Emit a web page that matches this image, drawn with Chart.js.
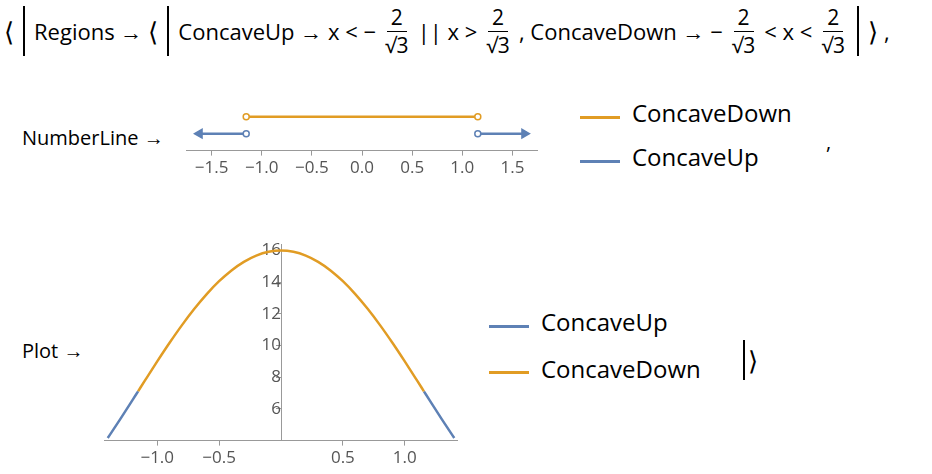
<!DOCTYPE html>
<html><head><meta charset="utf-8">
<script src="https://cdn.jsdelivr.net/npm/chart.js@4"></script>
<style>
body{margin:0;width:932px;height:474px;background:#fff;font-family:"Open Sans","Noto Sans",sans-serif;color:#000;position:relative;overflow:hidden}
.a{position:absolute;white-space:nowrap}
.row{display:flex;align-items:center;font-size:22px;gap:6px}
.fr{display:inline-flex;flex-direction:column;align-items:center;font-size:21px;line-height:27px;margin:0 3px}
.fr .n{border-bottom:1.3px solid #000;padding:0 4px}
.bar{display:inline-block;width:2px;height:50px;background:#000;margin:0 3px}
.lg{position:absolute;height:2.5px;width:40px}
.lt{position:absolute;font-size:24px}
</style></head><body>
<div class="a row" style="left:4px;top:3px;height:56px">
<span style="font-size:26px">⟨</span><span class="bar"></span><span>Regions → </span><span style="font-size:26px">⟨</span><span class="bar"></span>
<span>ConcaveUp → x &lt; −</span><span class="fr"><span class="n">2</span><span>√3</span></span><span>|| x &gt;</span><span class="fr"><span class="n">2</span><span>√3</span></span>
<span>, ConcaveDown → −</span><span class="fr"><span class="n">2</span><span>√3</span></span><span>&lt; x &lt;</span><span class="fr"><span class="n">2</span><span>√3</span></span>
<span class="bar"></span><span style="font-size:26px">⟩</span><span>,</span></div>
<div class="a" style="left:22px;top:124px;font-size:20px">NumberLine →</div>
<div class="a" style="left:22px;top:337px;font-size:20px">Plot →</div>
<div class="a" style="left:826px;top:128px;font-size:20px">,</div>
<div class="lg" style="left:580px;top:116px;background:#E19C24"></div><div class="lt" style="left:632px;top:96px">ConcaveDown</div>
<div class="lg" style="left:580px;top:160px;background:#5E81B5"></div><div class="lt" style="left:632px;top:140px">ConcaveUp</div>
<div class="lg" style="left:489px;top:325px;background:#5E81B5"></div><div class="lt" style="left:541px;top:305px">ConcaveUp</div>
<div class="lg" style="left:489px;top:371px;background:#E19C24"></div><div class="lt" style="left:541px;top:352px">ConcaveDown</div>
<div class="a" style="left:740px;top:340px;font-size:26px;display:flex;align-items:center"><span class="bar" style="height:40px"></span>⟩</div>
<div class="a" style="left:180px;top:100px;width:364px;height:80px"><canvas id="c1"></canvas></div>
<div class="a" style="left:104px;top:228px;width:354px;height:242px"><canvas id="c2"></canvas></div>
<script>
const blue='#5E81B5', orange='#E19C24';
const inflection=1.1547;
const nlTicks=[-1.5,-1.0,-0.5,0.0,0.5,1.0,1.5];
const leftX=[-1.4,-1.3,-1.2,-1.1547];
const leftY=[4.16,5.336,6.554,7.111];
const midX=[-1.1547,-1.1,-1.0,-0.9,-0.8,-0.7,-0.6,-0.5,-0.4,-0.3,-0.2,-0.1,0,0.1,0.2,0.3,0.4,0.5,0.6,0.7,0.8,0.9,1.0,1.1,1.1547];
const midY=[7.111,7.784,9,10.176,11.29,12.32,13.25,14.063,14.746,15.288,15.682,15.92,16,15.92,15.682,15.288,14.746,14.063,13.25,12.32,11.29,10.176,9,7.784,7.111];
const rightX=[1.1547,1.2,1.3,1.4];
const rightY=[7.111,6.554,5.336,4.16];
const plotXTicks=[-1.0,-0.5,0.5,1.0];
const plotYTicks=[6,8,10,12,14,16];
const fmt=v=>(v<0?'−':'')+Math.abs(v).toFixed(1);
const font={family:'"Open Sans","Noto Sans",sans-serif',size:17};
Chart.defaults.color='#555';
new Chart(c1,{type:'line',data:{datasets:[
 {data:[{x:-inflection,y:2},{x:inflection,y:2}],borderColor:orange,borderWidth:2.5,pointStyle:'circle',pointRadius:3,pointBorderColor:orange,pointBackgroundColor:'#fff',pointBorderWidth:1.5},
 {data:[{x:-1.62,y:1},{x:-inflection,y:1}],borderColor:blue,borderWidth:2.5,pointStyle:['triangle','circle'],pointRotation:[-90,0],pointRadius:[5,3],pointBorderColor:blue,pointBackgroundColor:[blue,'#fff'],pointBorderWidth:1.5},
 {data:[{x:inflection,y:1},{x:1.62,y:1}],borderColor:blue,borderWidth:2.5,pointStyle:['circle','triangle'],pointRotation:[0,90],pointRadius:[3,5],pointBorderColor:blue,pointBackgroundColor:['#fff',blue],pointBorderWidth:1.5}
]},options:{animation:false,responsive:true,maintainAspectRatio:false,plugins:{legend:{display:false},tooltip:{enabled:false}},layout:{padding:{left:4,right:4}},
scales:{x:{type:'linear',min:-1.75,max:1.75,afterBuildTicks:s=>{s.ticks=nlTicks.map(v=>({value:v}))},ticks:{font,color:'#555',callback:fmt,padding:2},grid:{drawOnChartArea:false,tickLength:5,color:'#999'},border:{color:'#999'}},
y:{display:false,min:0,max:2.6}}}});
const ds=(X,Y,c)=>({data:X.map((x,i)=>({x,y:Y[i]})),borderColor:c,borderWidth:2.5,pointRadius:0,tension:0.4,cubicInterpolationMode:'monotone'});
new Chart(c2,{type:'line',data:{datasets:[ds(leftX,leftY,blue),ds(midX,midY,orange),ds(rightX,rightY,blue)]},
options:{animation:false,responsive:true,maintainAspectRatio:false,plugins:{legend:{display:false},tooltip:{enabled:false}},
scales:{x:{type:'linear',min:-1.43,max:1.43,afterBuildTicks:s=>{s.ticks=plotXTicks.map(v=>({value:v}))},ticks:{font,color:'#555',callback:fmt,padding:2},grid:{drawOnChartArea:false,tickLength:5,color:'#999'},border:{color:'#999'}},
y:{type:'linear',min:4,max:16.4,position:{x:0},afterBuildTicks:s=>{s.ticks=plotYTicks.map(v=>({value:v}))},ticks:{font,color:'#555',padding:6},grid:{drawOnChartArea:false,tickLength:5,color:'#999'},border:{color:'#999'}}}}});
</script></body></html>
